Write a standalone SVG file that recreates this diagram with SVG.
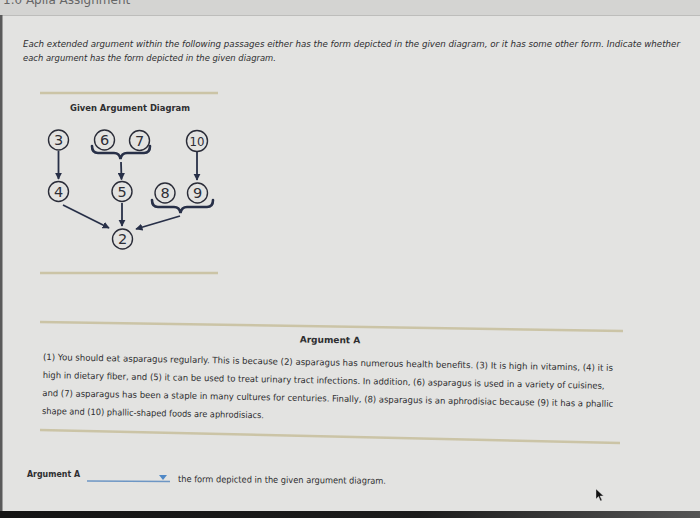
<svg xmlns="http://www.w3.org/2000/svg" width="700" height="518" viewBox="0 0 700 518">
<defs>
<style>
.t{font-family:"DejaVu Sans","Liberation Sans",sans-serif;fill:#2e2e30}
.i{font-style:italic;font-size:9px}
.p{font-size:8.8px}
.b{font-weight:bold;font-size:9px}
.sep{stroke:#cbc4a6;stroke-width:2.5;fill:none}
.n circle{fill:none;stroke:#2a2c38;stroke-width:1.4}
.n text{font-family:"DejaVu Sans","Liberation Sans",sans-serif;font-size:14.5px;fill:#2e2e36;text-anchor:middle}
.c{stroke:#283048;stroke-width:1.8;fill:none}
.br{stroke:#283048;stroke-width:2.6;fill:none;stroke-linecap:round}
</style>
<marker id="ah" viewBox="0 0 10 10" refX="9" refY="5" markerWidth="4" markerHeight="4" orient="auto" markerUnits="strokeWidth">
<path d="M0,0 L10,5 L0,10 z" fill="#283048"/>
</marker>
<linearGradient id="bot" x1="0" y1="0" x2="1" y2="0">
<stop offset="0" stop-color="#141414"/>
<stop offset="0.6" stop-color="#1c1c1c"/>
<stop offset="1" stop-color="#555555"/>
</linearGradient>
</defs>
<rect width="700" height="518" fill="#e3e3e1"/>
<rect width="700" height="15" fill="#d4d4d2"/>
<line x1="0" y1="15.5" x2="700" y2="15.5" stroke="#bdbdbb" stroke-width="1"/>
<text x="3" y="4" font-family="DejaVu Sans,sans-serif" font-size="12" fill="#666">1.0 Aplia Assignment</text>
<rect x="0" y="15" width="2.5" height="500" fill="#5a5a5a"/>
<rect x="0" y="511" width="700" height="7" fill="url(#bot)"/>

<text class="t i" x="23" y="47" textLength="657" lengthAdjust="spacingAndGlyphs">Each extended argument within the following passages either has the form depicted in the given diagram, or it has some other form. Indicate whether</text>
<text class="t i" x="23" y="61" textLength="253" lengthAdjust="spacingAndGlyphs">each argument has the form depicted in the given diagram.</text>

<line class="sep" x1="40" y1="93" x2="218" y2="93"/>
<text class="t b" x="70" y="111" textLength="120" lengthAdjust="spacingAndGlyphs">Given Argument Diagram</text>
<line class="sep" x1="40" y1="273" x2="218" y2="273"/>

<g id="connectors">
<line class="c" x1="58.5" y1="151" x2="58.5" y2="179" marker-end="url(#ah)"/>
<line class="c" x1="197" y1="152" x2="197" y2="180" marker-end="url(#ah)"/>
<path id="brace67" class="br" d="M92,146 Q92,153 98,153 L114,153 Q119.5,153 120.5,159 Q121.5,153 127,153 L144,153 Q150,153 150,146"/>
<line class="c" x1="121" y1="162" x2="121.5" y2="179.5" marker-end="url(#ah)"/>
<path id="brace89" class="br" d="M152,200 Q152,207 158,207 L174,207 Q179.5,207 180.5,213 Q181.5,207 187,207 L207,207 Q213,207 213,200"/>
<line class="c" x1="63" y1="205" x2="109" y2="228" marker-end="url(#ah)"/>
<line class="c" x1="122" y1="203" x2="122" y2="226" marker-end="url(#ah)"/>
<line class="c" x1="180" y1="216" x2="136" y2="229" marker-end="url(#ah)"/>
</g>

<g id="n3" class="n"><circle cx="58.5" cy="140" r="10"/><text x="58.5" y="145.2">3</text></g>
<g id="n6" class="n"><circle cx="104.5" cy="140" r="10"/><text x="104.5" y="145.2">6</text></g>
<g id="n7" class="n"><circle cx="139.5" cy="140.5" r="10"/><text x="139.5" y="145.7">7</text></g>
<g id="n10" class="n"><circle cx="197" cy="141" r="10.5"/><text x="197" y="145.5" style="font-size:12.5px" textLength="15" lengthAdjust="spacingAndGlyphs">10</text></g>
<g id="n4" class="n"><circle cx="58.5" cy="191.5" r="10"/><text x="58.5" y="196.7">4</text></g>
<g id="n5" class="n"><circle cx="122" cy="191.5" r="10"/><text x="122" y="196.7">5</text></g>
<g id="n8" class="n"><circle cx="165" cy="193" r="10"/><text x="165" y="198.2">8</text></g>
<g id="n9" class="n"><circle cx="197.5" cy="193" r="10"/><text x="197.5" y="198.2">9</text></g>
<g id="n2" class="n"><circle cx="122.5" cy="239" r="10"/><text x="122.5" y="244.2">2</text></g>

<line class="sep" x1="40" y1="322" x2="623" y2="331"/>
<text class="t b" x="330" y="343" text-anchor="middle" transform="rotate(0.9 330 343)">Argument A</text>
<g transform="rotate(1.1 43 360)">
<text class="t p" x="43" y="360" textLength="570" lengthAdjust="spacingAndGlyphs">(1) You should eat asparagus regularly. This is because (2) asparagus has numerous health benefits. (3) It is high in vitamins, (4) it is</text>
<text class="t p" x="43" y="378" textLength="562" lengthAdjust="spacingAndGlyphs">high in dietary fiber, and (5) it can be used to treat urinary tract infections. In addition, (6) asparagus is used in a variety of cuisines,</text>
<text class="t p" x="43" y="396" textLength="571" lengthAdjust="spacingAndGlyphs">and (7) asparagus has been a staple in many cultures for centuries. Finally, (8) asparagus is an aphrodisiac because (9) it has a phallic</text>
<text class="t p" x="43" y="414" textLength="222" lengthAdjust="spacingAndGlyphs">shape and (10) phallic-shaped foods are aphrodisiacs.</text>
</g>
<line class="sep" x1="40" y1="430" x2="620" y2="443"/>

<text class="t b" x="27" y="477" textLength="53" lengthAdjust="spacingAndGlyphs">Argument A</text>
<line x1="87" y1="481" x2="170" y2="481.5" stroke="#6d96c4" stroke-width="1.3"/>
<path d="M159,475 L167,475 L163,480 z" fill="#4f88c6"/>
<text class="t p" x="178" y="482" textLength="208" lengthAdjust="spacingAndGlyphs" transform="rotate(0.5 178 482)">the form depicted in the given argument diagram.</text>

<path d="M596,489 L596,499 L598.5,496.5 L600.5,501 L602,500.3 L600,496 L603.5,496 z" fill="#111" stroke="#ddd" stroke-width="0.4"/>
</svg>
